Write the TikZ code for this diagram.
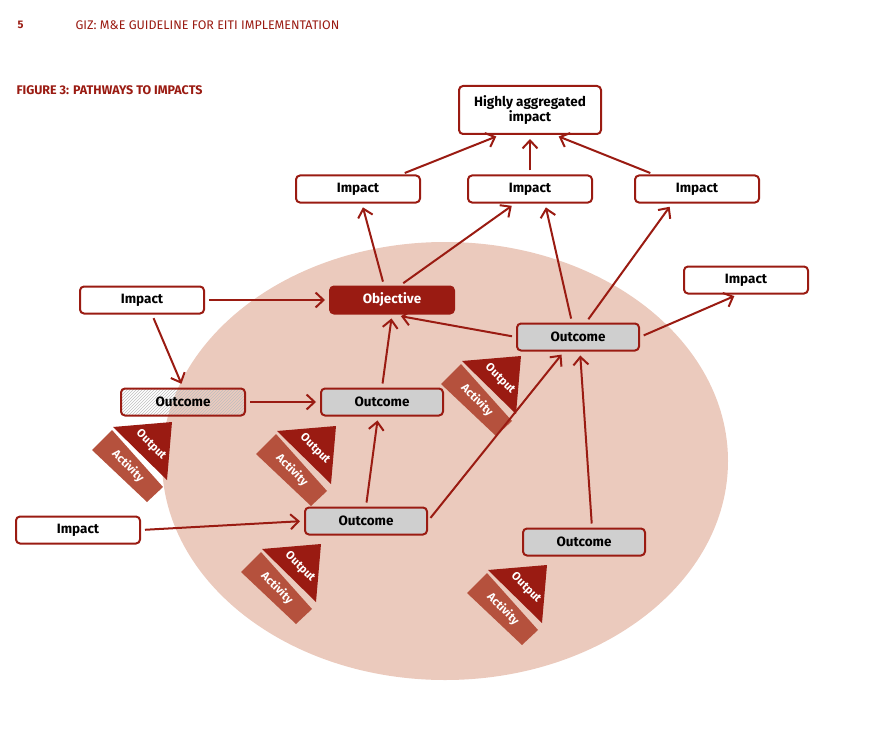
\documentclass[tikz,border=0pt]{standalone}
\usepackage{fontspec}
\setmainfont{Fira Sans}
\usetikzlibrary{arrows.meta,patterns}
\definecolor{dred}{HTML}{9A1B12}
\definecolor{ell}{HTML}{EBCABD}
\definecolor{act}{HTML}{B5513D}
\definecolor{gbox}{HTML}{CFCFCF}
\tikzset{
 box/.style={draw=dred,line width=2pt,rounded corners=4pt,minimum height=27pt,fill=white,font=\bfseries\fontsize{13.5}{15}\selectfont,align=center},
 imp/.style={box,minimum width=124pt},
 outc/.style={box,minimum width=122pt,fill=gbox},
 arr/.style={draw=dred,line width=2pt,-{Straight Barb[length=8pt,width=15pt,line width=2pt]},shorten >=4pt,shorten <=4pt},
 pics/glyph/.style={code={
   \fill[dred] (-59,5) -- (0,0) -- (-5,58) -- cycle;
   \fill[act] (-60,8) -- (-9,65) -- (-25,80) -- (-80,28) -- cycle;
   \node[text=white,font=\bfseries\fontsize{11.5}{12}\selectfont,rotate=-45,inner sep=0pt] at (-21,23) {Output};
   \node[text=white,font=\bfseries\fontsize{11.5}{12}\selectfont,rotate=-45,inner sep=0pt] at (-44,44) {Activity};
 }}
}
\begin{document}
\begin{tikzpicture}[x=1pt,y=-1pt]
\useasboundingbox (0,0) rectangle (880,730);
\fill[ell] (445,461) ellipse [x radius=283, y radius=219];
\node[anchor=west,text=dred,font=\bfseries\fontsize{11}{12}\selectfont] (pg) at (14,25) {5};
\node[anchor=west,text=dred,font=\fontsize{12.5}{14}\selectfont] (hd) at (72,25) {GIZ: M\&E GUIDELINE FOR EITI IMPLEMENTATION};
\node[anchor=west,text=dred,font=\bfseries\fontsize{12.5}{14}\selectfont] (ft) at (13,90) {FIGURE 3: PATHWAYS TO IMPACTS};

\node[box,minimum width=142pt,minimum height=48pt] (hai) at (530,110) {Highly aggregated\\impact};
\node[imp] (i1) at (358,189) {Impact};
\node[imp] (i2) at (530,189) {Impact};
\node[imp] (i3) at (697,189) {Impact};
\node[imp] (i4) at (746,280) {Impact};
\node[imp] (i5) at (142,300) {Impact};
\node[imp] (i6) at (78,530) {Impact};
\node[box,minimum width=124pt,fill=dred,text=white] (obj) at (392,300) {Objective};
\node[outc] (o1) at (578,337) {Outcome};
\node[box,minimum width=124pt,pattern=north east lines,pattern color=gray!50] (oh) at (183,402) {};
\node[font=\bfseries\fontsize{13.5}{15}\selectfont] (ohl) at (183,402) {Outcome};
\node[outc] (o2) at (382,402) {Outcome};
\node[outc] (o3) at (366,521) {Outcome};
\node[outc] (o4) at (584,542) {Outcome};

\pic at (172,422) {glyph};
\pic at (336,426) {glyph};
\pic at (521,356) {glyph};
\pic at (321,544) {glyph};
\pic at (547,565) {glyph};

\draw[arr] (i1.north east) ++(-20,0) -- ([xshift=-30pt]hai.south);
\draw[arr] (i2) -- (hai);
\draw[arr] (i3.north west) ++(20,0) -- ([xshift=25pt]hai.south);
\draw[arr] ([xshift=-8pt]obj.north) -- (i1);
\draw[arr] ([xshift=8pt]obj.north) -- ([xshift=-15pt]i2.south);
\draw[arr] ([xshift=-6pt]o1.north) -- ([xshift=15pt]i2.south);
\draw[arr] ([xshift=8pt]o1.north) -- ([xshift=-25pt]i3.south);
\draw[arr] (o1.east) -- ([xshift=-8pt]i4.south);
\draw[arr] (o1.west) -- ([xshift=5pt,yshift=-1pt]obj.south);
\draw[arr] (i5.east) -- (obj.west);
\draw[arr] ([xshift=10pt]i5.south) -- (oh.north);
\draw[arr] (oh.east) -- (o2.west);
\draw[arr] (o2.north) -- (obj.south);
\draw[arr] (o3.north) -- ([xshift=-4pt]o2.south);
\draw[arr] (o3.east) -- ([xshift=-14pt]o1.south);
\draw[arr] (i6.east) -- (o3.west);
\draw[arr] ([xshift=8pt]o4.north) -- ([xshift=2pt]o1.south);
\end{tikzpicture}
\end{document}
